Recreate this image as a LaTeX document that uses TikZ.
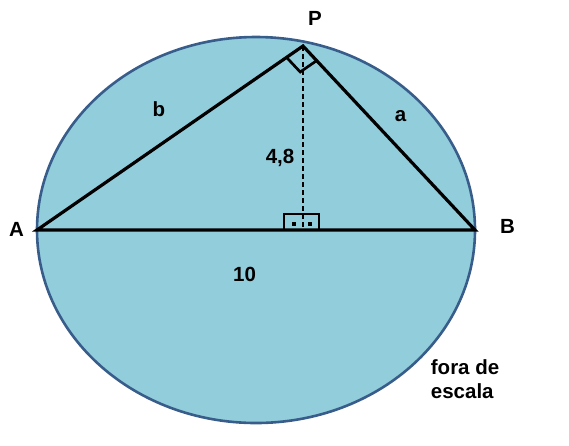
\documentclass[tikz,border=0pt]{standalone}
\usepackage{fontspec}
\setmainfont{Liberation Sans}
\usetikzlibrary{calc}
\definecolor{ellfill}{HTML}{92CDDC}
\definecolor{elledge}{HTML}{385D8A}
\tikzset{
  lbl/.style={font=\fontsize{20.5}{24}\selectfont\bfseries, inner sep=0pt},
  tri/.style={line width=3.2pt, black},
  ell/.style={fill=ellfill, draw=elledge, line width=2.6pt},
  hgt/.style={line width=2.2pt, dash pattern=on 5pt off 3pt},
  mark/.style={line width=2pt}
}
\begin{document}
\begin{tikzpicture}[x=1pt,y=-1pt]
\useasboundingbox (0,0) rectangle (569,445);
\draw[ell] (256,230) ellipse [x radius=219, y radius=193];
\coordinate (A) at (37,230);
\coordinate (B) at (475,230);
\coordinate (P) at (303,46);
\coordinate (H) at (303,230);
\draw[hgt] (P) -- (H);
\draw[line width=2.2pt] (284,230) rectangle (319,214);
\fill (292,222) rectangle (296,226);
\fill (308,222) rectangle (312,226);
\coordinate (PA) at ($(P)!20pt!(A)$);
\coordinate (PB) at ($(P)!20pt!(B)$);
\draw[line width=2.7pt] (PA) -- ($(PA)+(PB)-(P)$) -- (PB);
\draw[tri] (A) -- (P) -- (B) -- cycle;
\node[lbl] (lP) at (315,18) {P};
\node[lbl] (lA) at (16.5,229) {A};
\node[lbl] (lB) at (507.5,226.5) {B};
\node[lbl] (lb) at (159,109) {b};
\node[lbl] (la) at (400.5,116) {a};
\node[lbl] (lh) at (280,158) {4,8};
\node[lbl] (l10) at (244.5,274.5) {10};
\node[lbl, anchor=base west, align=left] (lf) at (430.7,398) {fora de\\escala};
\end{tikzpicture}
\end{document}
